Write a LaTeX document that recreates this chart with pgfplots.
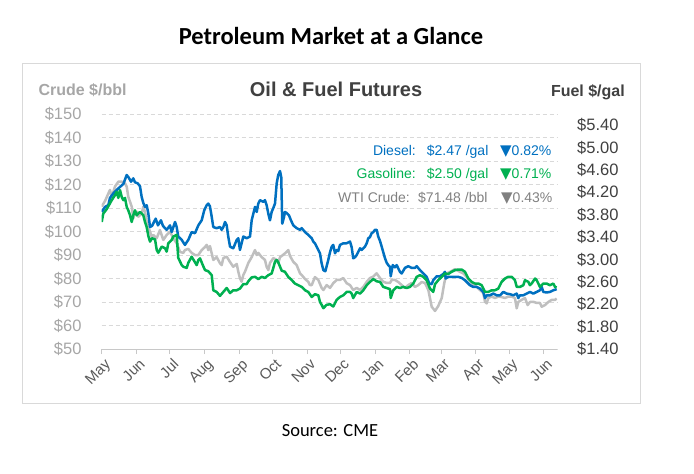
\documentclass[border=0pt]{standalone}
\usepackage{fontspec}
\usepackage{pgfplots}
\pgfplotsset{compat=1.18}
\usepackage{pgfplotstable}
\setmainfont{Liberation Sans}
\newfontfamily\calibri{Carlito}
\newfontfamily\symfont{DejaVu Sans}

\definecolor{diesel}{HTML}{0070C0}
\definecolor{gasoline}{HTML}{00B050}
\definecolor{crude}{HTML}{BFBFBF}
\definecolor{crudetext}{HTML}{808080}
\definecolor{lefttick}{HTML}{A6A6A6}
\definecolor{darktext}{HTML}{404040}
\definecolor{monthtext}{HTML}{595959}
\definecolor{gridgray}{HTML}{D9D9D9}
\definecolor{axisgray}{HTML}{C8C8C8}

% x = days since 1 May 2022
% Diesel (ULSD) front month, $/gal
\pgfplotstableread{
day v
0 3.85
3.0 3.94
5.9 3.97
7.4 4.10
10.4 4.18
13.4 4.24
14.9 4.27
19.4 4.35
22.4 4.51
24.0 4.47
26.3 4.39
28.3 4.45
29.8 4.38
32.3 4.36
34.3 4.31
35.8 4.12
37.3 4.01
38.8 3.94
40.3 3.97
41.8 3.82
43.3 3.58
45.1 3.60
48.4 3.73
50.4 3.61
53.1 3.70
54.9 3.60
58.2 3.53
61.2 3.61
62.7 3.49
65.7 3.67
67.2 3.58
68.6 3.41
71.7 3.35
74.6 3.26
77.6 3.35
80.6 3.49
83.6 3.47
86.6 3.61
89.6 3.70
91.9 3.88
94.1 3.97
95.5 4.00
97.0 3.95
98.6 3.76
100.0 3.58
103.0 3.56
106.0 3.58
107.5 3.53
109.0 3.58
110.5 3.67
112.0 3.61
113.4 3.41
115.0 3.23
117.9 3.20
121.0 3.35
122.4 3.38
123.9 3.17
125.4 3.29
126.9 3.41
129.9 3.38
132.9 3.41
134.4 3.70
137.4 3.94
138.9 3.85
140.3 4.00
141.8 4.06
144.8 4.03
146.3 4.06
147.8 3.97
149.3 3.82
150.8 3.70
152.3 3.85
153.8 3.92
155.3 4.00
156.8 4.36
158.2 4.51
159.8 4.58
160.9 4.47
161.8 3.64
163.4 3.76
164.2 3.85
165.8 3.83
167.8 3.79
169.6 3.70
171.7 3.61
174.7 3.56
177.7 3.53
179.2 3.56
182.2 3.49
185.1 3.44
188.2 3.38
189.6 3.32
191.1 3.29
194.1 3.17
195.6 3.11
197.1 2.93
198.6 2.81
200.4 2.79
203.0 2.99
204.6 3.13
206.1 3.23
207.5 3.26
209.1 3.11
210.6 3.17
212.0 3.15
213.5 3.26
216.5 3.29
219.5 3.29
222.5 3.32
224.0 3.22
225.4 3.02
227.0 3.04
228.5 3.08
231.5 3.20
233.0 3.17
235.9 3.23
237.5 3.29
238.9 3.38
240.4 3.40
241.9 3.47
243.4 3.49
244.9 3.53
246.4 3.53
247.8 3.41
249.4 3.33
250.9 3.23
252.3 3.13
253.9 3.02
255.4 2.94
256.8 2.90
258.3 2.87
259.0 2.70
260.8 2.90
262.8 2.86
264.3 2.90
265.8 2.84
267.3 2.78
268.8 2.75
271.8 2.85
274.7 2.88
277.8 2.85
280.7 2.85
282.3 2.88
285.2 2.81
288.2 2.75
291.2 2.69
293.5 2.57
295.7 2.56
297.1 2.63
300.2 2.70
303.1 2.70
306.1 2.74
307.6 2.78
308.2 2.66
310.6 2.69
315.1 2.69
319.5 2.69
322.6 2.67
325.5 2.63
328.5 2.57
330.0 2.54
333.0 2.51
336.0 2.51
339.0 2.48
341.9 2.42
343.5 2.31
345.0 2.36
347.9 2.36
350.9 2.39
353.9 2.36
356.9 2.36
359.9 2.42
362.9 2.39
365.9 2.38
368.8 2.36
371.9 2.39
373.3 2.31
374.8 2.36
377.8 2.36
380.8 2.39
383.8 2.42
386.7 2.39
389.8 2.42
392.7 2.45
394.3 2.51
395.7 2.42
398.7 2.41
401.7 2.42
404.7 2.45
407.7 2.47
}\dieseldata

% RBOB gasoline front month, $/gal
\pgfplotstableread{
day v
0 3.67
1.4 3.82
4.5 3.90
9.0 4.06
11.9 4.15
13.4 4.21
14.9 4.10
16.4 4.24
17.9 4.12
19.4 4.06
20.9 4.10
22.4 3.94
23.8 3.88
25.4 3.79
26.9 3.67
28.3 3.79
29.8 3.88
31.4 3.79
32.8 3.82
34.3 3.85
35.8 3.82
37.3 3.79
38.8 3.67
40.3 3.58
41.8 3.42
43.3 3.32
45.1 3.38
47.8 3.36
49.3 3.17
50.7 3.12
53.8 3.23
56.8 3.20
58.2 3.14
59.7 3.29
62.7 3.35
64.2 3.41
67.2 3.44
68.1 3.17
68.6 3.03
71.7 2.90
73.1 2.87
76.2 2.85
77.6 2.94
80.6 3.05
83.6 2.95
85.1 2.90
86.6 2.99
88.1 3.02
91.0 2.88
92.6 2.81
95.5 2.79
98.6 2.72
100.0 2.45
103.0 2.42
106.0 2.35
109.0 2.42
112.0 2.49
115.0 2.40
117.9 2.45
121.0 2.45
123.9 2.48
126.9 2.56
129.9 2.56
131.4 2.61
134.4 2.68
137.4 2.69
140.3 2.65
143.4 2.69
146.3 2.67
149.3 2.72
152.3 2.75
153.8 2.85
155.3 2.96
156.8 2.99
158.2 2.95
161.3 2.80
164.2 2.78
167.2 2.69
170.3 2.63
173.2 2.57
176.2 2.54
179.2 2.51
182.2 2.45
185.1 2.42
188.2 2.33
191.1 2.38
194.1 2.36
195.6 2.24
197.1 2.19
198.6 2.13
201.6 2.19
204.6 2.20
207.5 2.16
210.6 2.28
213.5 2.33
216.5 2.36
219.5 2.42
222.5 2.42
224.0 2.39
225.4 2.31
228.5 2.42
231.5 2.39
234.4 2.45
237.5 2.54
240.4 2.60
243.4 2.65
246.4 2.61
249.4 2.60
252.3 2.51
255.4 2.49
258.3 2.47
259.0 2.31
261.3 2.45
264.3 2.51
267.3 2.49
270.3 2.51
273.3 2.49
276.3 2.51
279.2 2.57
282.3 2.69
285.2 2.72
288.2 2.69
291.2 2.63
294.2 2.48
297.1 2.42
298.7 2.56
301.6 2.63
304.7 2.69
307.6 2.75
310.6 2.74
313.6 2.78
316.6 2.81
319.5 2.82
322.6 2.82
325.5 2.78
328.5 2.66
331.5 2.60
334.5 2.57
337.5 2.57
340.5 2.54
343.5 2.42
346.4 2.42
349.5 2.45
352.4 2.45
355.4 2.48
358.4 2.60
361.4 2.66
364.3 2.69
367.4 2.69
370.3 2.63
371.9 2.51
374.8 2.51
377.8 2.54
379.3 2.63
382.3 2.60
383.8 2.54
385.3 2.57
388.3 2.66
389.8 2.63
392.7 2.51
395.7 2.57
398.7 2.57
401.7 2.54
404.7 2.57
406.2 2.51
407.7 2.50
}\gasolinedata

% WTI crude front month, $/bbl
\pgfplotstableread{
day v
0 110.6
3.0 113.0
7.4 117.7
9.0 114.8
11.9 119.1
14.9 121.2
17.9 121.2
20.9 120.5
22.4 119.1
23.8 114.8
26.9 110.6
28.3 105.6
29.8 107.7
31.4 108.4
32.8 106.3
35.8 107.7
37.3 110.6
38.8 108.4
40.3 104.2
41.8 102.0
44.8 97.8
46.2 98.5
49.3 97.2
52.2 100.6
55.2 96.4
58.2 98.5
61.2 99.9
64.2 97.1
67.2 95.0
70.2 91.3
73.1 90.9
74.6 92.1
77.6 92.6
80.6 90.9
83.6 90.0
86.6 90.0
89.6 92.1
92.6 93.4
94.1 94.3
95.5 92.1
97.0 93.8
100.0 87.9
103.0 89.1
106.0 86.5
107.5 85.7
109.0 88.7
112.0 89.3
115.0 87.0
117.9 85.0
121.0 86.2
122.4 82.9
123.9 80.1
125.4 78.6
126.9 81.5
128.4 82.9
131.4 86.6
134.4 89.1
137.4 92.1
138.9 90.0
140.3 90.9
143.4 89.1
146.3 87.9
147.8 85.0
149.3 83.6
150.8 86.6
153.8 88.7
156.8 87.9
158.2 86.5
159.8 89.1
161.3 89.6
164.2 90.7
167.2 92.1
168.7 89.6
171.7 87.1
174.7 85.7
177.7 82.2
179.2 81.5
182.2 79.8
185.1 78.6
186.6 77.2
188.2 77.2
191.1 80.6
194.1 79.4
197.1 76.0
198.6 75.1
201.6 77.2
204.6 76.0
207.5 78.0
210.6 79.4
213.5 79.4
216.5 80.2
219.5 78.0
222.5 77.2
225.4 75.1
228.5 76.0
231.5 75.1
234.4 76.4
237.5 78.6
240.4 80.2
243.4 80.8
246.4 82.2
249.4 80.2
252.3 78.6
255.4 78.1
258.3 78.1
259.9 79.4
262.8 79.4
265.8 78.5
268.8 77.2
271.8 76.0
274.7 77.2
277.8 78.1
280.7 76.4
283.7 77.2
286.7 78.5
289.7 78.1
292.7 75.1
294.2 71.6
295.7 68.0
298.7 66.2
301.6 68.3
304.7 71.7
307.0 78.1
309.1 82.2
312.1 82.8
316.6 84.0
321.1 82.8
324.0 82.2
327.1 80.6
330.0 78.9
333.0 77.2
336.0 76.5
339.0 75.1
341.9 73.8
343.5 70.1
345.0 69.4
346.4 71.7
349.5 72.3
352.4 71.7
355.4 72.3
358.4 72.1
361.4 71.7
364.3 72.3
367.4 72.3
370.3 71.7
371.9 67.3
373.3 70.0
376.3 70.9
379.3 71.7
381.7 68.7
383.8 70.0
386.7 70.1
389.8 69.6
392.7 69.6
394.3 68.0
397.2 68.7
400.2 70.0
403.2 70.9
406.2 70.9
407.7 71.48
}\crudedata

\pgfplotsset{
  panel/.style={
    at={(101.7pt,-349pt)}, anchor=south west,
    width=455.3pt, height=235pt, scale only axis,
    xmin=0, xmax=408,
    /pgf/number format/assume math mode=true,
  },
  series/.style={line width=2.5pt, line join=round, no markers},
}

\begin{document}
\begin{tikzpicture}
\path[use as bounding box] (0pt,0pt) rectangle (694pt,-474pt);

% outer panel and captions
\draw[gridgray, line width=1pt] (22.7pt,-63pt) rectangle (640pt,-403pt);
\node[anchor=base, inner sep=0pt, font=\calibri\bfseries\fontsize{24.5}{28}\selectfont] at (331pt,-44pt) {Petroleum Market at a Glance};
\node[anchor=base, inner sep=0pt, font=\calibri\fontsize{18.5}{22}\selectfont] at (330pt,-436pt) {Source: CME};

\node[anchor=base west, inner sep=0pt, text=lefttick, font=\bfseries\fontsize{16}{19}\selectfont] at (38.3pt,-95.5pt) {Crude \$/bbl};
\node[anchor=base, inner sep=0pt, text=darktext, font=\bfseries\fontsize{20}{24}\selectfont] at (336pt,-96.5pt) {Oil \& Fuel Futures};
\node[anchor=base east, inner sep=0pt, text=darktext, font=\bfseries\fontsize{16}{19}\selectfont] at (625pt,-96pt) {Fuel \$/gal};

% crude axis (left)
\begin{axis}[
  panel,
  ymin=50, ymax=150,
  axis x line*=bottom, axis y line*=left,
  y axis line style={draw=none},
  x axis line style={axisgray, line width=1pt, -},
  xtick={0,31,61,92,123,153,184,214,245,276,304,335,365,396},
  xticklabels={May,Jun,Jul,Aug,Sep,Oct,Nov,Dec,Jan,Feb,Mar,Apr,May,Jun},
  xtick align=outside,
  xtick style={axisgray, line width=0.8pt},
  major tick length=5pt,
  xticklabel style={text=monthtext, font=\fontsize{15}{17}\selectfont, rotate=45, anchor=north east, inner sep=1pt, yshift=-3pt},
  ytick={50,60,...,150},
  ytick style={draw=none},
  ymajorgrids,
  grid style={gridgray, dash pattern=on 4pt off 3pt, line width=1pt},
  yticklabel={\$\pgfmathprintnumber{\tick}},
  yticklabel style={text=lefttick, font=\fontsize{16.5}{19}\selectfont, inner sep=0pt, anchor=east, xshift=-20pt},
]
\addplot[series, crude] table[x=day, y=v] {\crudedata};
\end{axis}

% fuel axis (right)
\begin{axis}[
  panel,
  ymin=1.4, ymax=5.6,
  axis x line=none, axis y line*=right,
  y axis line style={draw=none},
  ytick={1.4,1.8,2.2,2.6,3.0,3.4,3.8,4.2,4.6,5.0,5.4},
  ytick style={draw=none},
  yticklabel={\$\pgfmathprintnumber[fixed,fixed zerofill,precision=2]{\tick}},
  yticklabel style={text=darktext, font=\fontsize{16.5}{19}\selectfont, inner sep=0pt, anchor=west, xshift=20pt},
]
\addplot[series, diesel] table[x=day, y=v] {\dieseldata};
\addplot[series, gasoline] table[x=day, y=v] {\gasolinedata};
\end{axis}

% latest quotes
\begin{scope}[every node/.style={inner sep=0pt, font=\fontsize{14}{17}\selectfont}]
\node[anchor=base east, text=diesel] at (416pt,-155pt) {Diesel:};
\node[anchor=base west, text=diesel] at (426.7pt,-155pt) {\$2.47 /gal};
\node[anchor=base west, text=diesel] at (500pt,-155pt) {{\symfont\fontsize{15}{17}\selectfont ▼}0.82\%};
\node[anchor=base east, text=gasoline] at (416pt,-178.5pt) {Gasoline:};
\node[anchor=base west, text=gasoline] at (426.7pt,-178.5pt) {\$2.50 /gal};
\node[anchor=base west, text=gasoline] at (500pt,-178.5pt) {{\symfont\fontsize{15}{17}\selectfont ▼}0.71\%};
\node[anchor=base east, text=crudetext] at (410pt,-202pt) {WTI Crude:};
\node[anchor=base west, text=crudetext] at (418pt,-202pt) {\$71.48 /bbl};
\node[anchor=base west, text=crudetext] at (501pt,-202pt) {{\symfont\fontsize{15}{17}\selectfont ▼}0.43\%};
\end{scope}
\end{tikzpicture}
\end{document}
